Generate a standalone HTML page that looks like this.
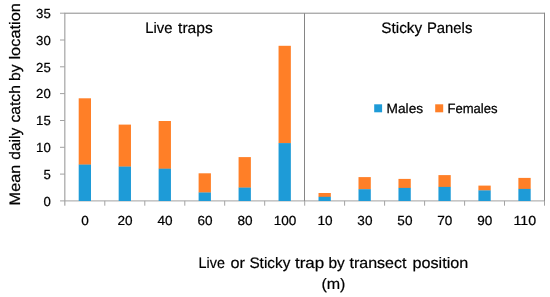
<!DOCTYPE html>
<html lang="en">
<head>
<meta charset="utf-8">
<title>Mean daily catch by location</title>
<style>
html,body{margin:0;padding:0;background:#fff;}
body{width:550px;height:297px;overflow:hidden;}
svg{display:block;}
text{font-family:"Liberation Sans",sans-serif;fill:#000;stroke:#000;stroke-width:0.2px;text-rendering:geometricPrecision;}
.t{font-size:13.1px;stroke-width:0.22px;}
.h{font-size:15.2px;}
.l{font-size:13.4px;stroke-width:0.25px;}
</style>
</head>
<body>
<svg width="550" height="297" viewBox="0 0 550 297">
<rect x="0" y="0" width="550" height="297" fill="#ffffff"/>
<path d="M64.35 13.2 H544.5" fill="none" stroke="#8a8a8a" stroke-width="1"/>
<path d="M64.85 13.2 V205.7" fill="none" stroke="#929292" stroke-width="1"/>
<g fill="none" stroke="#a2a2a2" stroke-width="1">
<path d="M60.05 200.9 H544.5"/>
<path d="M60.0 13.2 H64.85"/>
<path d="M60.0 40.0 H64.85"/>
<path d="M60.0 66.8 H64.85"/>
<path d="M60.0 93.6 H64.85"/>
<path d="M60.0 120.5 H64.85"/>
<path d="M60.0 147.3 H64.85"/>
<path d="M60.0 174.1 H64.85"/>
<path d="M104.8 200.9 V205.7"/>
<path d="M144.8 200.9 V205.7"/>
<path d="M184.8 200.9 V205.7"/>
<path d="M224.7 200.9 V205.7"/>
<path d="M264.7 200.9 V205.7"/>
<path d="M304.7 200.9 V205.7"/>
<path d="M344.6 200.9 V205.7"/>
<path d="M384.6 200.9 V205.7"/>
<path d="M424.6 200.9 V205.7"/>
<path d="M464.6 200.9 V205.7"/>
<path d="M504.5 200.9 V205.7"/>
<path d="M544.5 200.9 V205.7"/>
</g>
<path d="M304.5 13.2 V200.9 M544.5 12.7 V200.9" stroke="#858585" stroke-width="1" fill="none"/>
<rect x="78.70" y="98.3" width="12.3" height="66.5" fill="#ff7f27"/>
<rect x="78.70" y="164.6" width="12.3" height="36.4" fill="#1e9bd7"/>
<rect x="118.67" y="124.6" width="12.3" height="42.2" fill="#ff7f27"/>
<rect x="118.67" y="166.6" width="12.3" height="34.4" fill="#1e9bd7"/>
<rect x="158.64" y="121.0" width="12.3" height="47.9" fill="#ff7f27"/>
<rect x="158.64" y="168.7" width="12.3" height="32.3" fill="#1e9bd7"/>
<rect x="198.61" y="173.3" width="12.3" height="19.4" fill="#ff7f27"/>
<rect x="198.61" y="192.5" width="12.3" height="8.5" fill="#1e9bd7"/>
<rect x="238.58" y="157.1" width="12.3" height="30.7" fill="#ff7f27"/>
<rect x="238.58" y="187.6" width="12.3" height="13.4" fill="#1e9bd7"/>
<rect x="278.55" y="45.8" width="12.3" height="97.5" fill="#ff7f27"/>
<rect x="278.55" y="143.1" width="12.3" height="57.9" fill="#1e9bd7"/>
<rect x="318.52" y="193.0" width="12.3" height="4.0" fill="#ff7f27"/>
<rect x="318.52" y="196.8" width="12.3" height="4.2" fill="#1e9bd7"/>
<rect x="358.50" y="177.1" width="12.3" height="12.3" fill="#ff7f27"/>
<rect x="358.50" y="189.2" width="12.3" height="11.8" fill="#1e9bd7"/>
<rect x="398.47" y="178.9" width="12.3" height="9.2" fill="#ff7f27"/>
<rect x="398.47" y="187.9" width="12.3" height="13.1" fill="#1e9bd7"/>
<rect x="438.44" y="175.1" width="12.3" height="12.0" fill="#ff7f27"/>
<rect x="438.44" y="186.9" width="12.3" height="14.1" fill="#1e9bd7"/>
<rect x="478.41" y="185.6" width="12.3" height="5.0" fill="#ff7f27"/>
<rect x="478.41" y="190.4" width="12.3" height="10.6" fill="#1e9bd7"/>
<rect x="518.38" y="177.9" width="12.3" height="11.2" fill="#ff7f27"/>
<rect x="518.38" y="188.9" width="12.3" height="12.1" fill="#1e9bd7"/>
<text class="t" x="36.13" y="17.9" textLength="14.67" lengthAdjust="spacingAndGlyphs">35</text>
<text class="t" x="36.13" y="44.8" textLength="14.67" lengthAdjust="spacingAndGlyphs">30</text>
<text class="t" x="36.13" y="71.6" textLength="14.67" lengthAdjust="spacingAndGlyphs">25</text>
<text class="t" x="36.13" y="98.4" textLength="14.67" lengthAdjust="spacingAndGlyphs">20</text>
<text class="t" x="36.13" y="125.2" textLength="14.67" lengthAdjust="spacingAndGlyphs">15</text>
<text class="t" x="36.13" y="152.0" textLength="14.67" lengthAdjust="spacingAndGlyphs">10</text>
<text class="t" x="43.46" y="178.8" textLength="7.34" lengthAdjust="spacingAndGlyphs">5</text>
<text class="t" x="43.46" y="205.7" textLength="7.34" lengthAdjust="spacingAndGlyphs">0</text>
<text class="t" x="81.35" y="225.3" textLength="7.56" lengthAdjust="spacingAndGlyphs">0</text>
<text class="t" x="117.54" y="225.3" textLength="15.12" lengthAdjust="spacingAndGlyphs">20</text>
<text class="t" x="157.51" y="225.3" textLength="15.12" lengthAdjust="spacingAndGlyphs">40</text>
<text class="t" x="197.49" y="225.3" textLength="15.12" lengthAdjust="spacingAndGlyphs">60</text>
<text class="t" x="237.46" y="225.3" textLength="15.12" lengthAdjust="spacingAndGlyphs">80</text>
<text class="t" x="273.65" y="225.3" textLength="22.69" lengthAdjust="spacingAndGlyphs">100</text>
<text class="t" x="317.40" y="225.3" textLength="15.12" lengthAdjust="spacingAndGlyphs">10</text>
<text class="t" x="357.37" y="225.3" textLength="15.12" lengthAdjust="spacingAndGlyphs">30</text>
<text class="t" x="397.34" y="225.3" textLength="15.12" lengthAdjust="spacingAndGlyphs">50</text>
<text class="t" x="437.31" y="225.3" textLength="15.12" lengthAdjust="spacingAndGlyphs">70</text>
<text class="t" x="477.28" y="225.3" textLength="15.12" lengthAdjust="spacingAndGlyphs">90</text>
<text class="t" x="513.47" y="225.3" textLength="22.69" lengthAdjust="spacingAndGlyphs">110</text>
<rect x="374.2" y="104.3" width="7.9" height="8.0" fill="#1e9bd7"/>
<rect x="435.2" y="104.3" width="8.0" height="8.0" fill="#ff7f27"/>
<text class="h" x="145.28" y="33.3" textLength="27.28" lengthAdjust="spacingAndGlyphs">Live</text>
<text class="h" x="178.06" y="33.3" textLength="34.70" lengthAdjust="spacingAndGlyphs">traps</text>
<text class="h" x="381.30" y="33.3" textLength="40.83" lengthAdjust="spacingAndGlyphs">Sticky</text>
<text class="h" x="426.88" y="33.3" textLength="45.46" lengthAdjust="spacingAndGlyphs">Panels</text>
<text class="l" x="386.58" y="112.8" textLength="36.52" lengthAdjust="spacingAndGlyphs">Males</text>
<text class="l" x="447.43" y="112.8" textLength="50.15" lengthAdjust="spacingAndGlyphs">Females</text>
<text class="h" x="198.62" y="267.5" textLength="26.31" lengthAdjust="spacingAndGlyphs">Live</text>
<text class="h" x="230.52" y="267.5" textLength="14.45" lengthAdjust="spacingAndGlyphs">or</text>
<text class="h" x="249.40" y="267.5" textLength="40.93" lengthAdjust="spacingAndGlyphs">Sticky</text>
<text class="h" x="294.94" y="267.5" textLength="29.27" lengthAdjust="spacingAndGlyphs">trap</text>
<text class="h" x="328.40" y="267.5" textLength="16.33" lengthAdjust="spacingAndGlyphs">by</text>
<text class="h" x="349.46" y="267.5" textLength="57.06" lengthAdjust="spacingAndGlyphs">transect</text>
<text class="h" x="412.45" y="267.5" textLength="55.90" lengthAdjust="spacingAndGlyphs">position</text>
<text class="h" x="321.40" y="288.9" textLength="24.09" lengthAdjust="spacingAndGlyphs">(m)</text>
<g transform="translate(19.7 204.2) rotate(-90)">
<text class="h" x="-1.24" y="0" textLength="40.80" lengthAdjust="spacingAndGlyphs">Mean</text>
<text class="h" x="44.55" y="0" textLength="31.78" lengthAdjust="spacingAndGlyphs">daily</text>
<text class="h" x="81.63" y="0" textLength="37.49" lengthAdjust="spacingAndGlyphs">catch</text>
<text class="h" x="123.28" y="0" textLength="16.65" lengthAdjust="spacingAndGlyphs">by</text>
<text class="h" x="144.70" y="0" textLength="56.37" lengthAdjust="spacingAndGlyphs">location</text>
</g>
</svg>
</body>
</html>
